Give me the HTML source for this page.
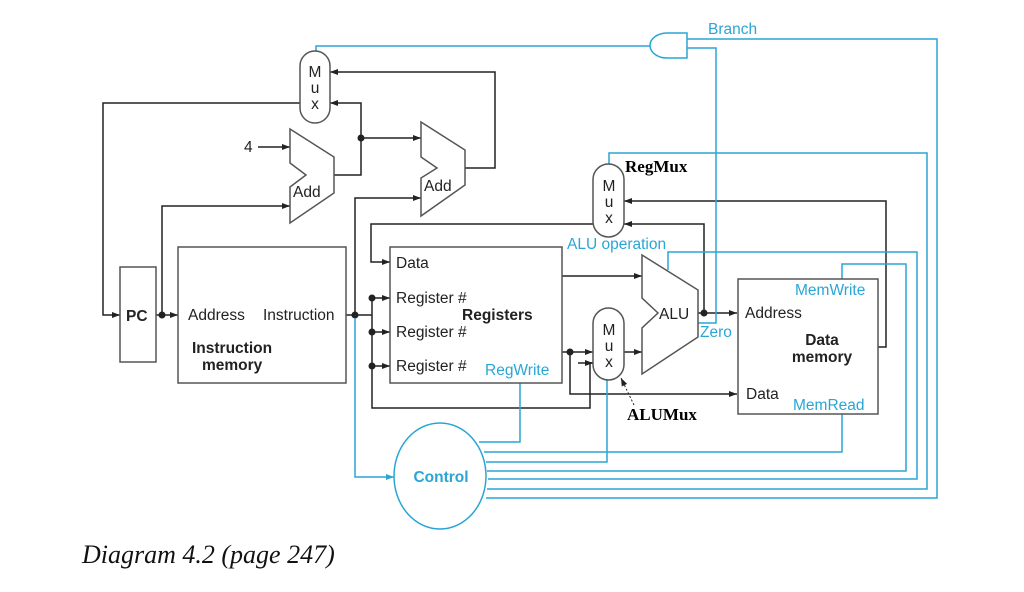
<!DOCTYPE html>
<html><head><meta charset="utf-8"><style>
html,body{margin:0;padding:0;background:#fff;}
svg{display:block;}
text{font-family:"Liberation Sans",sans-serif;font-size:15.5px;fill:#222;}
.b{fill:#2aa6d4;}
.bold{font-weight:bold;}
.m{text-anchor:middle;}
</style></head><body>
<svg width="1024" height="592" viewBox="0 0 1024 592" xmlns="http://www.w3.org/2000/svg">
<defs>
<marker id="a" markerWidth="8" markerHeight="6" refX="8" refY="3" orient="auto" markerUnits="userSpaceOnUse"><path d="M0,0 L8,3 L0,6 z" fill="#222"/></marker>
<marker id="ab" markerWidth="8" markerHeight="6" refX="8" refY="3" orient="auto" markerUnits="userSpaceOnUse"><path d="M0,0 L8,3 L0,6 z" fill="#2aa6d4"/></marker>
</defs>
<g fill="none" stroke="#222" stroke-width="1.5">
<polyline points="300,103 103,103 103,315 120,315" marker-end="url(#a)"/>
<polyline points="156,315 178,315" marker-end="url(#a)"/>
<polyline points="162,315 162,206 290,206" marker-end="url(#a)"/>
<line x1="258" y1="147" x2="290" y2="147" marker-end="url(#a)"/>
<polyline points="334,175 361,175 361,103 330,103" marker-end="url(#a)"/>
<line x1="361" y1="138" x2="421" y2="138" marker-end="url(#a)"/>
<polyline points="465,168 495,168 495,72 330,72" marker-end="url(#a)"/>
<polyline points="346,315 372,315"/>
<polyline points="355,315 355,198 421,198" marker-end="url(#a)"/>
<polyline points="372,298 372,408 590,408 590,363 593,363" />
<line x1="372" y1="298" x2="390" y2="298" marker-end="url(#a)"/>
<line x1="372" y1="332" x2="390" y2="332" marker-end="url(#a)"/>
<line x1="372" y1="366" x2="390" y2="366" marker-end="url(#a)"/>
<line x1="578" y1="363" x2="593" y2="363" marker-end="url(#a)"/>
<polyline points="593,224 371,224 371,262 390,262" marker-end="url(#a)"/>
<line x1="562" y1="276" x2="642" y2="276" marker-end="url(#a)"/>
<line x1="562" y1="352" x2="593" y2="352" marker-end="url(#a)"/>
<polyline points="570,352 570,394 737,394" marker-end="url(#a)"/>
<line x1="624" y1="352" x2="642" y2="352" marker-end="url(#a)"/>
<line x1="698" y1="313" x2="737" y2="313" marker-end="url(#a)"/>
<polyline points="704,313 704,224 624,224" marker-end="url(#a)"/>
<polyline points="878,347 886,347 886,201 624,201" marker-end="url(#a)"/>
</g>
<g fill="#222">
<circle cx="162" cy="315" r="3.5"/><circle cx="361" cy="138" r="3.5"/><circle cx="355" cy="315" r="3.5"/>
<circle cx="372" cy="298" r="3.5"/><circle cx="372" cy="332" r="3.5"/><circle cx="372" cy="366" r="3.5"/>
<circle cx="570" cy="352" r="3.5"/><circle cx="704" cy="313" r="3.5"/>
</g>
<g fill="none" stroke="#2aa6d4" stroke-width="1.5">
<polyline points="355,318 355,477 394,477" marker-end="url(#ab)"/>
<polyline points="520,383 520,442 479,442"/>
<polyline points="484,452 842,452 842,414"/>
<polyline points="486,462 607,462 607,380"/>
<polyline points="487,471 906,471 906,264 842,264 842,279"/>
<polyline points="488,479 917,479 917,252 668,252 668,270"/>
<polyline points="487,489 927,489 927,153 609,153 609,165"/>
<polyline points="486,498 937,498 937,39 687,39"/>
<polyline points="698,323 716,323 716,48 687,48"/>
<polyline points="650,46 316,46 316,51"/>
<path d="M687,33 L667,33 A17,12.5 0 0 0 667,58 L687,58 Z"/>
<ellipse cx="440" cy="476" rx="46" ry="53"/>
</g>
<g fill="#fff" stroke="#555" stroke-width="1.5">
<rect x="120" y="267" width="36" height="95"/>
<rect x="178" y="247" width="168" height="136"/>
<rect x="390" y="247" width="172" height="136"/>
<rect x="738" y="279" width="140" height="135"/>
<rect x="300" y="51" width="30" height="72" rx="15"/>
<rect x="593" y="164" width="31" height="73" rx="15.5"/>
<rect x="593" y="308" width="31" height="72" rx="15.5"/>
<polygon points="290,129 334,157 334,193 290,223 290,187 306,175 290,163"/>
<polygon points="421,122 465,150 465,185 421,216 421,178 437,168 421,157"/>
<polygon points="642,255 698,290 698,337 642,374 642,328 658,313 642,298"/>
</g>
<g style="font-size:16px">
<text x="315" y="77" class="m">M</text><text x="315" y="93" class="m">u</text><text x="315" y="109" class="m">x</text>
<text x="609" y="191" class="m">M</text><text x="609" y="207" class="m">u</text><text x="609" y="223" class="m">x</text>
<text x="609" y="335" class="m">M</text><text x="609" y="351" class="m">u</text><text x="609" y="367" class="m">x</text>
</g>
<text x="244" y="152">4</text>
<text x="293" y="197">Add</text>
<text x="424" y="191">Add</text>
<text x="126" y="321" class="bold">PC</text>
<text x="188" y="320">Address</text>
<text x="263" y="320">Instruction</text>
<text x="192" y="353" class="bold">Instruction</text>
<text x="202" y="370" class="bold">memory</text>
<text x="396" y="268">Data</text>
<text x="396" y="303">Register #</text>
<text x="396" y="337">Register #</text>
<text x="396" y="371">Register #</text>
<text x="462" y="320" class="bold">Registers</text>
<text x="485" y="375" class="b">RegWrite</text>
<text x="659" y="319">ALU</text>
<text x="700" y="337" class="b">Zero</text>
<text x="567" y="249" class="b">ALU operation</text>
<text x="708" y="34" class="b">Branch</text>
<text x="745" y="318">Address</text>
<text x="795" y="295" class="b">MemWrite</text>
<text x="822" y="345" class="bold m">Data</text>
<text x="822" y="362" class="bold m">memory</text>
<text x="746" y="399">Data</text>
<text x="793" y="410" class="b">MemRead</text>
<text x="441" y="482" class="b bold m">Control</text>
<text x="625" y="172" style="font-family:'Liberation Serif',serif;font-weight:bold;font-size:17px;fill:#000">RegMux</text>
<text x="627" y="420" style="font-family:'Liberation Serif',serif;font-weight:bold;font-size:17px;fill:#000">ALUMux</text>
<line x1="634" y1="405" x2="621" y2="378" stroke="#222" stroke-dasharray="2,2" stroke-width="1" marker-end="url(#a)"/>
<text x="82" y="563" style="font-family:'Liberation Serif',serif;font-style:italic;font-size:26px;fill:#111">Diagram 4.2 (page 247)</text>
</svg>
</body></html>
